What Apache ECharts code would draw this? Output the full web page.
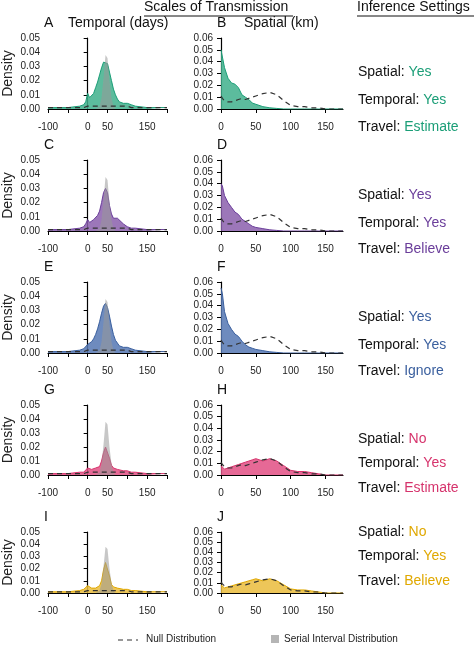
<!DOCTYPE html><html><head><meta charset="utf-8">
<script src="https://cdn.jsdelivr.net/npm/echarts@6/dist/echarts.min.js"></script>
<style>html,body{margin:0;padding:0;background:#fff}#c{width:474px;height:645px}</style></head><body><div id="c"></div>
<script>
const temporalX=[-100,-50,-20,-10,-5,0,5,10,15,20,25,30,35,40,45,50,55,60,65,70,75,80,90,100,105,110,120,150,200];
const serial=[0,0,0,0,0,0,0,0,0,0,0.0005,0.002,0.008,0.022,0.038,0.036,0.02,0.008,0.002,0,0,0,0,0,0,0,0,0,0];
const nullT=[0.001,0.001,0.001,0.001,0.001,0.002,0.002,0.002,0.002,0.002,0.002,0.002,0.002,0.002,0.002,0.002,0.002,0.002,0.002,0.002,0.002,0.002,0.002,0.002,0.001,0.001,0.001,0.001,0.001];
const tA=[0.001,0.001,0.002,0.003,0.005,0.011,0.008,0.009,0.011,0.015,0.019,0.024,0.029,0.033,0.034,0.032,0.026,0.02,0.014,0.01,0.007,0.005,0.004,0.004,0.004,0.003,0.002,0.001,0.001];
const tC=[0.001,0.001,0.002,0.003,0.005,0.008,0.006,0.007,0.008,0.009,0.011,0.014,0.02,0.027,0.03,0.027,0.018,0.012,0.009,0.008,0.009,0.01,0.005,0.003,0.003,0.002,0.002,0.001,0.001];
const tE=[0.001,0.001,0.002,0.003,0.004,0.006,0.006,0.008,0.01,0.013,0.017,0.022,0.028,0.033,0.035,0.032,0.026,0.019,0.013,0.009,0.007,0.005,0.004,0.004,0.003,0.003,0.002,0.001,0.001];
const tG=[0.001,0.001,0.002,0.002,0.003,0.005,0.004,0.004,0.004,0.005,0.005,0.006,0.01,0.016,0.02,0.019,0.012,0.007,0.005,0.004,0.004,0.003,0.003,0.003,0.002,0.002,0.002,0.001,0.001];
const tI=[0.001,0.001,0.002,0.003,0.004,0.006,0.005,0.004,0.004,0.004,0.005,0.006,0.01,0.019,0.025,0.024,0.014,0.007,0.005,0.004,0.004,0.003,0.003,0.003,0.002,0.002,0.002,0.001,0.001];
const spatialX=[0,2,5,10,15,20,25,30,35,40,45,50,60,70,80,90,100,110,120,130,140,150,175];
const nullS=[0.011,0.009,0.007,0.006,0.006,0.007,0.008,0.009,0.008,0.009,0.01,0.011,0.013,0.014,0.012,0.007,0.003,0.002,0.002,0.001,0.001,0,0];
const sB=[0.05,0.05,0.035,0.026,0.022,0.021,0.018,0.012,0.01,0.008,0.005,0.004,0.002,0.001,0.0005,0,0,0,0,0,0,0,0];
const sD=[0.04,0.038,0.03,0.024,0.02,0.016,0.014,0.01,0.008,0.006,0.004,0.003,0.002,0.001,0.0005,0,0,0,0,0,0,0,0];
const sF=[0.055,0.05,0.035,0.025,0.02,0.016,0.014,0.01,0.007,0.005,0.004,0.003,0.002,0.001,0.0005,0,0,0,0,0,0,0,0];
const sH=[0.008,0.007,0.005,0.006,0.007,0.008,0.009,0.01,0.011,0.012,0.013,0.014,0.012,0.014,0.012,0.008,0.004,0.003,0.003,0.002,0.001,0,0];
const sJ=[0.008,0.007,0.005,0.006,0.007,0.008,0.009,0.01,0.011,0.012,0.013,0.014,0.012,0.014,0.012,0.008,0.004,0.003,0.003,0.002,0.001,0,0];
const rows=[
 {t:tA,s:sB,c:'#1b9e77',f:'#3fb08c',L:['A','B'],sp:'Yes',te:'Yes',tr:'Estimate'},
 {t:tC,s:sD,c:'#6a3d9a',f:'#8b5fad',L:['C','D'],sp:'Yes',te:'Yes',tr:'Believe'},
 {t:tE,s:sF,c:'#3a5f9e',f:'#5577b3',L:['E','F'],sp:'Yes',te:'Yes',tr:'Ignore'},
 {t:tG,s:sH,c:'#d6336c',f:'#e24f84',L:['G','H'],sp:'No',te:'Yes',tr:'Estimate'},
 {t:tI,s:sJ,c:'#e0a800',f:'#eabc3c',L:['I','J'],sp:'No',te:'Yes',tr:'Believe'}];
const tops=[38,160,282,405,532],hs=[71,71,71,70,61];
const setY=[[73,101,128],[196,224,250],[318,346,372],[440,464,489],[533,557,582]];
const zip=(x,y)=>x.map((v,i)=>[v,y[i]]);
const grid=[],xAxis=[],yAxis=[],series=[],graphic=[];
const TF='Liberation Sans, Arial, sans-serif';
const ax={axisLine:{lineStyle:{color:'#000',width:1.2}},axisTick:{lineStyle:{color:'#000'},length:4},splitLine:{show:false},axisLabel:{color:'#222',fontSize:10,fontFamily:TF}};
rows.forEach((r,i)=>{
 const top=tops[i],h=hs[i];
 grid.push({left:47,top:top,width:120,height:h});
 grid.push({left:221,top:top,width:122,height:h});
 const gi=i*2;
 xAxis.push(Object.assign({},ax,{gridIndex:gi,type:'value',min:-100,max:200,interval:50,axisLabel:Object.assign({},ax.axisLabel,{margin:13,formatter:v=>[-100,0,50,150].includes(v)?String(v):''})}));
 xAxis.push(Object.assign({},ax,{gridIndex:gi+1,type:'value',min:0,max:175,interval:50,axisLabel:Object.assign({},ax.axisLabel,{margin:13,showMaxLabel:false})}));
 yAxis.push(Object.assign({},ax,{gridIndex:gi,type:'value',min:0,max:0.05,interval:0.01,name:'Density',nameLocation:'middle',nameGap:33,nameTextStyle:{fontSize:14,color:'#222',fontFamily:TF},axisLabel:Object.assign({},ax.axisLabel,{formatter:v=>v.toFixed(2)})}));
 yAxis.push(Object.assign({},ax,{gridIndex:gi+1,type:'value',min:0,max:0.06,interval:0.01,axisLabel:Object.assign({},ax.axisLabel,{formatter:v=>v.toFixed(2)})}));
 series.push({type:'line',xAxisIndex:gi,yAxisIndex:gi,data:zip(temporalX,r.t),symbol:'none',lineStyle:{color:r.c,width:1},areaStyle:{color:r.f,opacity:0.85},z:2});
 series.push({type:'line',xAxisIndex:gi,yAxisIndex:gi,data:zip(temporalX,serial),symbol:'none',lineStyle:{width:0},areaStyle:{color:'#999',opacity:0.55},z:3});
 series.push({type:'line',xAxisIndex:gi,yAxisIndex:gi,data:zip(temporalX,nullT),symbol:'none',lineStyle:{color:'#333',width:1.2,type:[5,4]},z:4});
 series.push({type:'line',xAxisIndex:gi+1,yAxisIndex:gi+1,data:zip(spatialX,r.s),symbol:'none',lineStyle:{color:r.c,width:1},areaStyle:{color:r.f,opacity:0.85},z:2});
 series.push({type:'line',xAxisIndex:gi+1,yAxisIndex:gi+1,data:zip(spatialX,nullS),symbol:'none',lineStyle:{color:'#333',width:1.2,type:[5,4]},z:4});
 const ly=top-22;
 graphic.push({type:'text',left:44,top:ly,style:{text:r.L[0],fontSize:14,fill:'#111',fontFamily:TF}});
 graphic.push({type:'text',left:217,top:ly,style:{text:r.L[1],fontSize:14,fill:'#111',fontFamily:TF}});
 [['Spatial: ',r.sp],['Temporal: ',r.te],['Travel: ',r.tr]].forEach((p,k)=>{
  graphic.push({type:'text',left:358,top:setY[i][k]-8,style:{text:'{a|'+p[0]+'}{b|'+p[1]+'}',rich:{a:{fontSize:14,fill:'#111',fontFamily:TF},b:{fontSize:14,fill:r.c,fontFamily:TF}}}});
 });
});
graphic.push({type:'text',left:68,top:16,style:{text:'Temporal (days)',fontSize:14,fill:'#111',fontFamily:TF}});
graphic.push({type:'text',left:244,top:16,style:{text:'Spatial (km)',fontSize:14,fill:'#111',fontFamily:TF}});
graphic.push({type:'text',left:144,top:0,style:{text:'Scales of Transmission',fontSize:14,fill:'#111',fontFamily:TF}});
graphic.push({type:'line',shape:{x1:144,y1:16,x2:293,y2:16},style:{stroke:'#111',lineWidth:1}});
graphic.push({type:'text',left:357,top:0,style:{text:'Inference Settings',fontSize:14,fill:'#111',fontFamily:TF}});
graphic.push({type:'line',shape:{x1:357,y1:16,x2:474,y2:16},style:{stroke:'#111',lineWidth:1}});
graphic.push({type:'line',shape:{x1:118,y1:640,x2:138,y2:640},style:{stroke:'#333',lineWidth:1.2,lineDash:[5,4]}});
graphic.push({type:'text',left:146,top:634,style:{text:'Null Distribution',fontSize:10,fill:'#222',fontFamily:TF}});
graphic.push({type:'rect',shape:{x:271,y:635,width:8,height:8},style:{fill:'#b5b5b5'}});
graphic.push({type:'text',left:284,top:634,style:{text:'Serial Interval Distribution',fontSize:10,fill:'#222',fontFamily:TF}});
const ch=echarts.init(document.getElementById('c'));
ch.setOption({animation:false,grid,xAxis,yAxis,series,graphic});
</script></body></html>
